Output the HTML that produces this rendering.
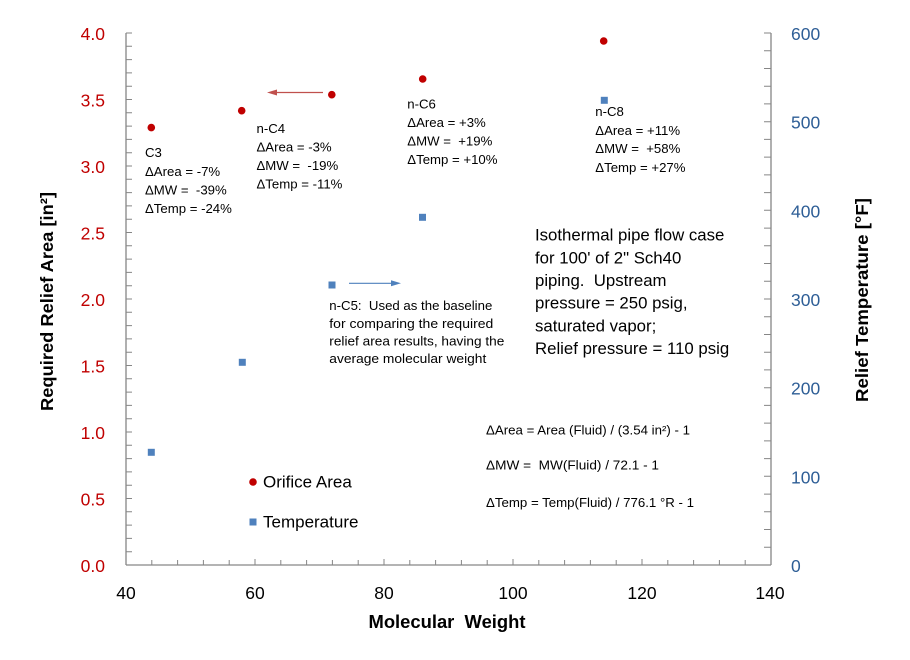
<!DOCTYPE html>
<html>
<head>
<meta charset="utf-8">
<style>
  html,body{margin:0;padding:0;background:#fff;}
  svg{display:block;}
  text{font-family:"Liberation Sans", Arial, sans-serif; white-space:pre;}
</style>
</head>
<body>
<svg width="910" height="660" viewBox="0 0 910 660" xmlns="http://www.w3.org/2000/svg" xml:space="preserve">
  <rect width="910" height="660" fill="#fff"/>

  <!-- axes -->
  <g stroke="#868686" stroke-width="1.3" fill="none">
    <line x1="126" y1="33" x2="126" y2="565"/>
    <line x1="126" y1="565" x2="771" y2="565"/>
    <line x1="771" y1="33" x2="771" y2="565"/>
  </g>

  <g stroke="#868686" stroke-width="1">
    <path d="M126 33h6M126 46.3h6M126 59.6h6M126 72.9h6M126 86.2h6M126 99.5h6M126 112.8h6M126 126.1h6M126 139.4h6M126 152.7h6M126 166h6M126 179.3h6M126 192.6h6M126 205.9h6M126 219.2h6M126 232.5h6M126 245.8h6M126 259.1h6M126 272.4h6M126 285.7h6M126 299h6M126 312.3h6M126 325.6h6M126 338.9h6M126 352.2h6M126 365.5h6M126 378.8h6M126 392.1h6M126 405.4h6M126 418.7h6M126 432h6M126 445.3h6M126 458.6h6M126 471.9h6M126 485.2h6M126 498.5h6M126 511.8h6M126 525.1h6M126 538.4h6M126 551.7h6"/>
    <path d="M771 33h-7M771 50.7h-7M771 68.5h-7M771 86.2h-7M771 103.9h-7M771 121.7h-7M771 139.4h-7M771 157.1h-7M771 174.9h-7M771 192.6h-7M771 210.3h-7M771 228.1h-7M771 245.8h-7M771 263.5h-7M771 281.3h-7M771 299h-7M771 316.7h-7M771 334.5h-7M771 352.2h-7M771 369.9h-7M771 387.7h-7M771 405.4h-7M771 423.1h-7M771 440.9h-7M771 458.6h-7M771 476.3h-7M771 494.1h-7M771 511.8h-7M771 529.5h-7M771 547.3h-7"/>
    <path d="M151.8 565v-5M177.6 565v-5M203.4 565v-5M229.2 565v-5M280.8 565v-5M306.6 565v-5M332.4 565v-5M358.2 565v-5M409.8 565v-5M435.6 565v-5M461.4 565v-5M487.2 565v-5M538.8 565v-5M564.6 565v-5M590.4 565v-5M616.2 565v-5M667.8 565v-5M693.6 565v-5M719.4 565v-5M745.2 565v-5"/>
    <path d="M255 565v-6M384 565v-6M513 565v-6M642 565v-6"/>
  </g>

  <g fill="#C00000" font-size="17.5" text-anchor="end" dominant-baseline="central">
    <text x="105" y="34">4.0</text>
    <text x="105" y="100.5">3.5</text>
    <text x="105" y="167">3.0</text>
    <text x="105" y="233.5">2.5</text>
    <text x="105" y="300">2.0</text>
    <text x="105" y="366.5">1.5</text>
    <text x="105" y="433">1.0</text>
    <text x="105" y="499.5">0.5</text>
    <text x="105" y="566">0.0</text>
  </g>

  <g fill="#2E5E96" font-size="17.5" text-anchor="start" dominant-baseline="central">
    <text x="791" y="34">600</text>
    <text x="791" y="122.7">500</text>
    <text x="791" y="211.3">400</text>
    <text x="791" y="300">300</text>
    <text x="791" y="388.7">200</text>
    <text x="791" y="477.3">100</text>
    <text x="791" y="566">0</text>
  </g>

  <g fill="#000" font-size="17.5" text-anchor="middle" dominant-baseline="central">
    <text x="126" y="593">40</text>
    <text x="255" y="593">60</text>
    <text x="384" y="593">80</text>
    <text x="513" y="593">100</text>
    <text x="642" y="593">120</text>
    <text x="770" y="593">140</text>
  </g>

  <text x="447" y="622" font-size="18" font-weight="bold" text-anchor="middle" dominant-baseline="central" textLength="157" lengthAdjust="spacingAndGlyphs">Molecular  Weight</text>
  <text transform="translate(47,301.5) rotate(-90)" font-size="17.5" font-weight="bold" text-anchor="middle" dominant-baseline="central" textLength="219" lengthAdjust="spacingAndGlyphs">Required Relief Area [in²]</text>
  <text transform="translate(862,300) rotate(-90)" font-size="17.5" font-weight="bold" text-anchor="middle" dominant-baseline="central" textLength="204" lengthAdjust="spacingAndGlyphs">Relief Temperature [°F]</text>

  <g fill="#C00000">
    <circle cx="151.3" cy="127.6" r="3.8"/>
    <circle cx="241.7" cy="110.7" r="3.8"/>
    <circle cx="331.8" cy="94.7" r="3.8"/>
    <circle cx="422.7" cy="79" r="3.8"/>
    <circle cx="603.7" cy="41" r="3.8"/>
  </g>
  <g fill="#4F81BD">
    <rect x="147.8" y="448.8" width="7" height="7"/>
    <rect x="238.8" y="358.8" width="7" height="7"/>
    <rect x="328.5" y="281.5" width="7" height="7"/>
    <rect x="419" y="213.8" width="7" height="7"/>
    <rect x="600.8" y="96.8" width="7" height="7"/>
  </g>

  <line x1="323" y1="92.5" x2="276" y2="92.5" stroke="#C0504D" stroke-width="1.2"/>
  <polygon points="267,92.5 277,89.5 277,95.5" fill="#C0504D"/>
  <line x1="349" y1="283.3" x2="392" y2="283.3" stroke="#4F81BD" stroke-width="1.2"/>
  <polygon points="401,283.3 391,280.3 391,286.3" fill="#4F81BD"/>

  <g fill="#000" font-size="13.2" dominant-baseline="central">
    <text x="145" y="152.7">C3</text>
    <text x="145" y="171.5">ΔArea = -7%</text>
    <text x="145" y="190">ΔMW =  -39%</text>
    <text x="145" y="208.7">ΔTemp = -24%</text>

    <text x="256.5" y="128.3">n-C4</text>
    <text x="256.5" y="147">ΔArea = -3%</text>
    <text x="256.5" y="165.7">ΔMW =  -19%</text>
    <text x="256.5" y="184.2">ΔTemp = -11%</text>

    <text x="407.3" y="104">n-C6</text>
    <text x="407.3" y="122.5">ΔArea = +3%</text>
    <text x="407.3" y="141">ΔMW =  +19%</text>
    <text x="407.3" y="159.7">ΔTemp = +10%</text>

    <text x="595.3" y="111.7">n-C8</text>
    <text x="595.3" y="130.3">ΔArea = +11%</text>
    <text x="595.3" y="148.7">ΔMW =  +58%</text>
    <text x="595.3" y="167.3">ΔTemp = +27%</text>
  </g>

  <g fill="#000" font-size="13" dominant-baseline="central">
    <text x="329.3" y="305.7" textLength="163" lengthAdjust="spacingAndGlyphs">n-C5:  Used as the baseline</text>
    <text x="329.3" y="323.3" textLength="164" lengthAdjust="spacingAndGlyphs">for comparing the required</text>
    <text x="329.3" y="341" textLength="175" lengthAdjust="spacingAndGlyphs">relief area results, having the</text>
    <text x="329.3" y="358.7" textLength="157" lengthAdjust="spacingAndGlyphs">average molecular weight</text>
  </g>

  <g fill="#000" font-size="16.8" dominant-baseline="central">
    <text x="535" y="235">Isothermal pipe flow case</text>
    <text x="535" y="257.8">for 100' of 2" Sch40</text>
    <text x="535" y="280.5">piping.  Upstream</text>
    <text x="535" y="303.2">pressure = 250 psig,</text>
    <text x="535" y="326">saturated vapor;</text>
    <text x="535" y="348.7">Relief pressure = 110 psig</text>
  </g>

  <g fill="#000" font-size="13" dominant-baseline="central">
    <text x="486" y="430" textLength="204" lengthAdjust="spacingAndGlyphs">ΔArea = Area (Fluid) / (3.54 in²) - 1</text>
    <text x="486" y="465" textLength="173" lengthAdjust="spacingAndGlyphs">ΔMW =  MW(Fluid) / 72.1 - 1</text>
    <text x="486" y="502.5" textLength="208" lengthAdjust="spacingAndGlyphs">ΔTemp = Temp(Fluid) / 776.1 °R - 1</text>
  </g>

  <circle cx="253" cy="482" r="3.8" fill="#C00000"/>
  <text x="263" y="482" font-size="17" dominant-baseline="central">Orifice Area</text>
  <rect x="249.5" y="518.5" width="7" height="7" fill="#4F81BD"/>
  <text x="263" y="522" font-size="17" dominant-baseline="central">Temperature</text>
</svg>
</body>
</html>
